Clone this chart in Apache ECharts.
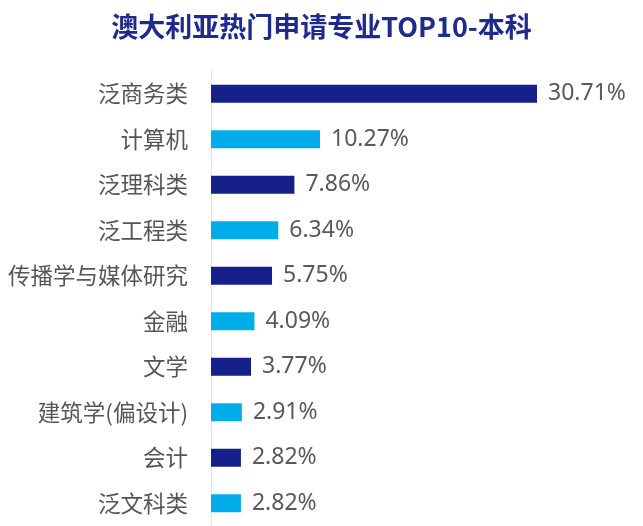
<!DOCTYPE html>
<html><head><meta charset="utf-8">
<script src="https://cdn.jsdelivr.net/npm/echarts@6/dist/echarts.min.js"></script>
<style>html,body{margin:0;padding:0;background:#fff}#c{width:643px;height:526px}</style>
</head><body><div id="c"></div>
<script>
const categories = ['泛商务类','计算机','泛理科类','泛工程类','传播学与媒体研究','金融','文学','建筑学(偏设计)','会计','泛文科类'];
const values = [30.71, 10.27, 7.86, 6.34, 5.75, 4.09, 3.77, 2.91, 2.82, 2.82];
const colors = ['#15208a', '#00ade8'];
const chart = echarts.init(document.getElementById('c'));
chart.setOption({
  backgroundColor: '#fff',
  animation: false,
  title: {
    text: '澳大利亚热门申请专业TOP10-本科',
    left: 'center', top: 8,
    textStyle: { fontFamily: 'Noto Sans CJK SC', fontSize: 27, fontWeight: 'bold', color: '#1e2a8c' }
  },
  grid: { left: 211, right: 106, top: 71, bottom: -5, containLabel: false },
  xAxis: { type: 'value', min: 0, max: 30.71, show: false },
  yAxis: {
    type: 'category', inverse: true, data: categories,
    axisLine: { show: true, lineStyle: { color: '#e6e6e6', width: 1 } },
    axisTick: { show: false },
    axisLabel: { margin: 23, fontFamily: 'Noto Sans CJK SC', fontSize: 22.5, color: '#555555' }
  },
  series: [{
    type: 'bar', barWidth: 18,
    data: values.map((v, i) => ({ value: v, itemStyle: { color: colors[i % 2] } })),
    label: {
      show: true, position: 'right', distance: 11,
      formatter: p => p.value.toFixed(2) + '%',
      fontFamily: 'Noto Sans', fontSize: 23, color: '#595959'
    }
  }]
});
</script></body></html>
